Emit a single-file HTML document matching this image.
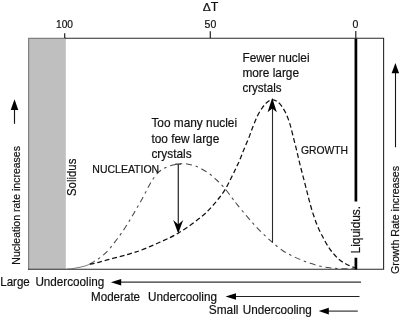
<!DOCTYPE html>
<html><head><meta charset="utf-8"><title>Undercooling</title>
<style>
html,body{margin:0;padding:0;background:#fff;}
svg{display:block;}
text{font-family:"Liberation Sans",Arial,sans-serif;fill:#111;stroke:#111;stroke-width:0.2px;}
</style></head><body>
<svg width="403" height="318" viewBox="0 0 403 318">
<rect x="0" y="0" width="403" height="318" fill="#fff"/>
<!-- gray solidus zone -->
<rect x="28" y="38" width="37.8" height="231.2" fill="#bfbfbf"/>
<!-- frame -->
<path d="M28.6,269.4 V38.3 H65.8" fill="none" stroke="#808080" stroke-width="1.2"/>
<path d="M65,38.3 H383.6 V269.2 H28" fill="none" stroke="#2a2a2a" stroke-width="1.1"/>
<!-- ticks -->
<path d="M64.7,33.2 V38 M210.3,31.2 V38 M355.8,31.0 V38" stroke="#222" stroke-width="1.2" fill="none"/>
<!-- liquidus thick line -->
<path d="M355.9,38.4 V201.6 M355.9,257.8 V269.6" stroke="#000" stroke-width="2.7" fill="none"/>
<!-- curves -->
<path d="M67.0,269.1 C68.0,269.0 71.2,268.8 73.0,268.5 C74.8,268.2 76.2,268.0 78.0,267.6 C79.8,267.2 81.9,266.9 83.9,266.3 C85.9,265.7 88.8,264.6 89.8,264.2" fill="none" stroke="#606060" stroke-width="0.85"/>
<path d="M89.8,264.2 C90.5,263.8 92.3,262.5 93.8,261.6 C95.2,260.7 96.7,260.1 98.5,258.8 C100.3,257.5 102.6,255.7 104.6,253.8 C106.6,252.0 108.6,249.9 110.5,247.7 C112.4,245.4 114.3,242.8 116.2,240.3 C118.1,237.8 119.9,235.3 121.8,232.6 C123.7,229.9 125.6,227.0 127.5,224.0 C129.4,221.0 131.1,218.0 133.0,214.8 C134.9,211.6 136.8,208.3 138.7,205.0 C140.6,201.7 142.6,198.1 144.3,194.8 C146.1,191.5 147.6,188.2 149.2,185.4 C150.8,182.6 152.3,180.0 153.9,177.8 C155.5,175.6 157.0,173.7 158.6,172.2 C160.2,170.7 161.6,169.8 163.3,168.8 C165.0,167.8 166.9,166.9 169.0,166.2 C171.1,165.5 173.6,164.8 175.6,164.4 C177.6,164.0 179.1,163.9 181.0,163.8 C182.9,163.7 184.8,163.6 187.0,163.9 C189.2,164.2 192.0,164.8 194.5,165.7 C197.0,166.6 199.6,167.8 202.1,169.2 C204.6,170.6 207.1,172.0 209.6,173.9 C212.1,175.8 214.7,178.1 217.2,180.5 C219.7,182.9 222.2,185.4 224.7,188.3 C227.2,191.2 230.2,195.4 232.3,198.2 C234.4,201.0 235.0,201.9 237.4,204.9 C239.8,207.9 243.7,212.5 246.8,216.2 C249.9,219.8 253.0,223.5 256.2,226.8 C259.3,230.2 262.9,233.7 265.7,236.3 C268.4,238.9 269.9,240.3 272.7,242.6 C275.4,244.9 279.0,248.0 282.2,250.2 C285.4,252.4 288.5,254.0 291.6,255.6 C294.7,257.2 297.9,258.5 301.0,259.8 C304.1,261.1 307.0,262.2 310.3,263.3 C313.6,264.4 317.2,265.5 320.6,266.3 C324.0,267.1 327.7,267.5 330.9,267.9 C334.1,268.3 336.1,268.5 340.0,268.6 C343.9,268.8 351.7,268.8 354.0,268.8" fill="none" stroke="#484848" stroke-width="1.05" stroke-dasharray="6 3.8 2.6 3.8"/>
<path d="M89.8,264.2 C91.0,264.0 94.2,263.4 96.8,262.8 C99.4,262.2 102.2,261.2 105.4,260.4 C108.6,259.5 112.3,258.6 115.8,257.7 C119.2,256.8 122.9,255.9 126.1,255.0 C129.3,254.1 132.7,252.9 135.0,252.2 C137.3,251.5 137.4,251.5 139.9,250.6 C142.4,249.7 146.5,248.0 149.8,246.6 C153.1,245.2 156.5,243.8 159.8,242.3 C163.1,240.8 166.6,239.2 169.7,237.7 C172.8,236.2 175.2,234.9 178.2,233.2 C181.2,231.4 184.3,229.4 187.5,227.2 C190.7,225.0 194.5,222.1 197.5,219.8 C200.5,217.5 203.0,215.5 205.5,213.2 C208.0,210.9 210.2,208.4 212.5,205.9 C214.8,203.4 216.9,200.9 219.1,198.0 C221.3,195.1 223.7,192.0 225.7,188.6 C227.7,185.2 229.6,181.2 231.3,177.8 C233.0,174.4 234.7,170.8 236.0,168.0 C237.3,165.2 238.1,163.8 239.4,160.8 C240.7,157.8 242.1,154.0 243.7,150.0 C245.3,146.0 247.5,141.0 249.2,136.8 C250.8,132.6 252.1,128.6 253.6,124.9 C255.1,121.2 256.5,117.7 258.0,114.8 C259.5,111.9 260.9,109.6 262.4,107.6 C263.9,105.5 265.2,103.8 266.8,102.5 C268.4,101.2 270.1,99.8 271.7,99.6 C273.3,99.4 275.1,100.2 276.7,101.2 C278.3,102.2 279.6,103.5 281.1,105.4 C282.6,107.3 284.1,109.7 285.5,112.6 C286.9,115.5 288.3,118.8 289.5,122.6 C290.7,126.3 291.7,130.7 292.8,135.1 C293.9,139.5 295.2,144.3 296.3,148.9 C297.4,153.5 298.5,158.2 299.6,162.8 C300.7,167.4 301.9,172.0 303.1,176.6 C304.3,181.2 305.6,186.2 306.6,190.2 C307.6,194.1 308.1,196.5 309.2,200.3 C310.2,204.1 311.4,208.7 312.9,213.2 C314.4,217.7 316.1,222.8 318.0,227.3 C319.9,231.8 322.4,236.3 324.5,240.2 C326.6,244.1 328.5,247.4 330.9,250.5 C333.2,253.6 336.0,256.7 338.6,259.0 C341.2,261.3 343.9,262.8 346.4,264.2 C348.9,265.6 352.1,266.6 353.6,267.3 C355.1,268.0 355.2,268.1 355.5,268.2" fill="none" stroke="#111" stroke-width="1.25" stroke-dasharray="4.9 2.8"/>
<!-- arrows in plot -->
<path d="M178.3,164 V226 M175.4,164.2 H180.8" stroke="#333" stroke-width="1.3" fill="none"/>
<path d="M178.2,233.5 L173.2,220 L178.2,224.5 L183.2,220 Z" fill="#000"/>
<line x1="272.5" y1="242.6" x2="272.5" y2="106" stroke="#2a2a2a" stroke-width="1.1"/>
<path d="M272.2,97.8 L267.6,112.3 L272.2,108.5 L276.8,112.3 Z" fill="#000"/>
<!-- side arrows -->
<line x1="14.5" y1="123.8" x2="14.5" y2="108" stroke="#161616" stroke-width="1.15"/>
<path d="M14.5,99.2 L10.7,109.9 L18.3,109.9 Z" fill="#000"/>
<line x1="395.5" y1="147.2" x2="395.5" y2="72" stroke="#161616" stroke-width="1.1"/>
<path d="M395.4,63.1 L391.6,73.3 L399.1,73.3 Z" fill="#000"/>
<!-- bottom lines & arrows -->
<line x1="119" y1="282.2" x2="361" y2="282.2" stroke="#333" stroke-width="1.25"/>
<path d="M110.9,282.2 L121.2,278.9 L121.2,285.5 Z" fill="#000"/>
<line x1="234" y1="296.5" x2="359.5" y2="296.5" stroke="#222" stroke-width="1.1"/>
<path d="M225.5,296.5 L236,293.2 L236,299.8 Z" fill="#000"/>
<line x1="327" y1="311.1" x2="357.8" y2="311.1" stroke="#222" stroke-width="1.1"/>
<path d="M318.7,311.1 L328.8,307.8 L328.8,314.4 Z" fill="#000"/>
<!-- labels -->
<text transform="translate(64.5,27.9) scale(0.97,1)" text-anchor="middle" style="font-size:10.5px">100</text>
<text transform="translate(210.4,27.6) scale(1,1)" text-anchor="middle" style="font-size:10.5px">50</text>
<text transform="translate(355.4,27.5) scale(1,1)" text-anchor="middle" style="font-size:10.5px">0</text>
<text transform="translate(202.7,11.1) scale(1.13,1)" style="font-size:10.7px">&#916;</text>
<text x="210.8" y="11.1" style="font-size:12.4px">T</text>
<text transform="translate(151.4,127) scale(0.927,1)" style="font-size:12.8px">Too many nuclei</text>
<text transform="translate(151.4,142.8) scale(0.927,1)" style="font-size:12.8px">too few large</text>
<text transform="translate(151.4,158.0) scale(0.927,1)" style="font-size:12.8px">crystals</text>
<text transform="translate(242.4,61.8) scale(0.927,1)" style="font-size:12.8px">Fewer nuclei</text>
<text transform="translate(242.4,77.2) scale(0.927,1)" style="font-size:12.8px">more large</text>
<text transform="translate(242.4,92.2) scale(0.905,1)" style="font-size:12.8px">crystals</text>
<text transform="translate(92.3,172.6) scale(1,1)" style="font-size:10.5px">NUCLEATION</text>
<text transform="translate(301.0,153.8) scale(0.985,1)" style="font-size:10.5px">GROWTH</text>
<text transform="translate(76.2,196.0) rotate(-90) scale(0.89,1)" style="font-size:12.8px">Solidus</text>
<text transform="translate(360.1,253.4) rotate(-90) scale(0.927,1)" style="font-size:12.8px">Liquidus.</text>
<text transform="translate(20.0,264.7) rotate(-90) scale(0.908,1)" style="font-size:11.6px">Nucleation rate increases</text>
<text transform="translate(399.1,273.9) rotate(-90) scale(0.915,1)" style="font-size:11.6px">Growth Rate increases</text>
<text transform="translate(0.2,286.3) scale(0.905,1)" style="font-size:12.8px">Large</text>
<text transform="translate(35.4,286.3) scale(0.915,1)" style="font-size:12.8px">Undercooling</text>
<text transform="translate(91.0,300.5) scale(0.908,1)" style="font-size:12.8px">Moderate</text>
<text transform="translate(148.0,300.5) scale(0.915,1)" style="font-size:12.8px">Undercooling</text>
<text transform="translate(208.8,314) scale(0.927,1)" style="font-size:12.8px">Small</text>
<text transform="translate(242.8,314) scale(0.915,1)" style="font-size:12.8px">Undercooling</text>
</svg>
</body></html>
